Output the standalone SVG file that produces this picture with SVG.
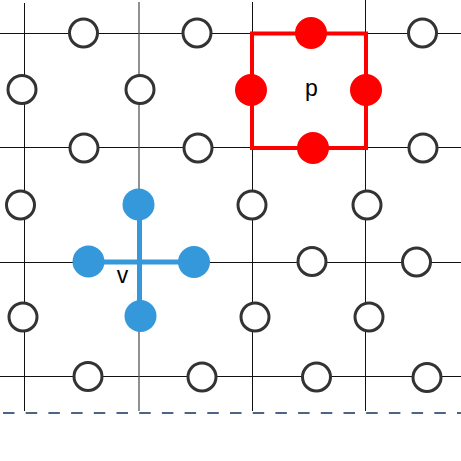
<svg xmlns="http://www.w3.org/2000/svg" width="461" height="461" viewBox="0 0 461 461">
<style>
.grid line{stroke:#111;stroke-width:1}
.q{fill:#fff;stroke:#333;stroke-width:3}
.r{fill:#f00}
.b{fill:#3498db}
.lbl{font-family:"Liberation Sans",Arial,sans-serif;font-size:23px;fill:#000;text-anchor:middle}
</style>
<rect width="461" height="461" fill="#fff"/>
<g id="connectors" class="grid">
<line x1="0" y1="33.5" x2="461" y2="33.5"/>
<line x1="0" y1="147.5" x2="461" y2="147.5"/>
<line x1="0" y1="262.5" x2="461" y2="262.5"/>
<line x1="0" y1="376.5" x2="461" y2="376.5"/>
<line x1="24.5" y1="3" x2="24.5" y2="411"/>
<line x1="139" y1="2" x2="139" y2="411" style="stroke:#555;stroke-width:1.3"/>
<line x1="252.5" y1="2" x2="252.5" y2="411"/>
<line x1="365.5" y1="0" x2="365.5" y2="411"/>
<line x1="3" y1="413" x2="461" y2="413" style="stroke:#4f6484;stroke-width:2;stroke-dasharray:11.5 11.2"/>
</g>
<g id="plaquette-p">
<rect x="252" y="33.5" width="114" height="114.5" fill="none" stroke="#f00" stroke-width="4"/>
<circle class="r" cx="311" cy="33" r="16"/>
<circle class="r" cx="251" cy="90" r="16"/>
<circle class="r" cx="366" cy="90" r="16"/>
<circle class="r" cx="313" cy="148" r="16"/>
<text class="lbl" x="311.5" y="96">p</text>
</g>
<g id="vertex-v">
<line x1="88" y1="262" x2="194" y2="262" stroke="#3498db" stroke-width="5"/>
<line x1="139.5" y1="205" x2="139.5" y2="316" stroke="#3498db" stroke-width="5"/>
<circle class="b" cx="138.5" cy="204.5" r="16"/>
<circle class="b" cx="88.5" cy="261.5" r="16"/>
<circle class="b" cx="194" cy="262" r="16"/>
<circle class="b" cx="140.5" cy="316" r="16"/>
<text class="lbl" x="122.5" y="283">v</text>
</g>
<g id="q1"><circle class="q" cx="83.5" cy="33" r="14"/></g>
<g id="q2"><circle class="q" cx="197" cy="33" r="14"/></g>
<g id="q3"><circle class="q" cx="422.5" cy="33" r="14"/></g>
<g id="q4"><circle class="q" cx="22" cy="89.5" r="14"/></g>
<g id="q5"><circle class="q" cx="140" cy="89.5" r="14"/></g>
<g id="q6"><circle class="q" cx="84" cy="148" r="14"/></g>
<g id="q7"><circle class="q" cx="198" cy="148" r="14"/></g>
<g id="q8"><circle class="q" cx="423" cy="148" r="14"/></g>
<g id="q9"><circle class="q" cx="20.5" cy="205" r="14"/></g>
<g id="q10"><circle class="q" cx="252" cy="205" r="14"/></g>
<g id="q11"><circle class="q" cx="367" cy="205" r="14"/></g>
<g id="q12"><circle class="q" cx="312" cy="261.5" r="14"/></g>
<g id="q13"><circle class="q" cx="416.5" cy="262" r="14"/></g>
<g id="q14"><circle class="q" cx="23" cy="317" r="14"/></g>
<g id="q15"><circle class="q" cx="255" cy="317" r="14"/></g>
<g id="q16"><circle class="q" cx="369" cy="317" r="14"/></g>
<g id="q17"><circle class="q" cx="88" cy="376.5" r="14"/></g>
<g id="q18"><circle class="q" cx="202" cy="377" r="14"/></g>
<g id="q19"><circle class="q" cx="316.5" cy="377" r="14"/></g>
<g id="q20"><circle class="q" cx="427" cy="377.5" r="14"/></g>
</svg>
